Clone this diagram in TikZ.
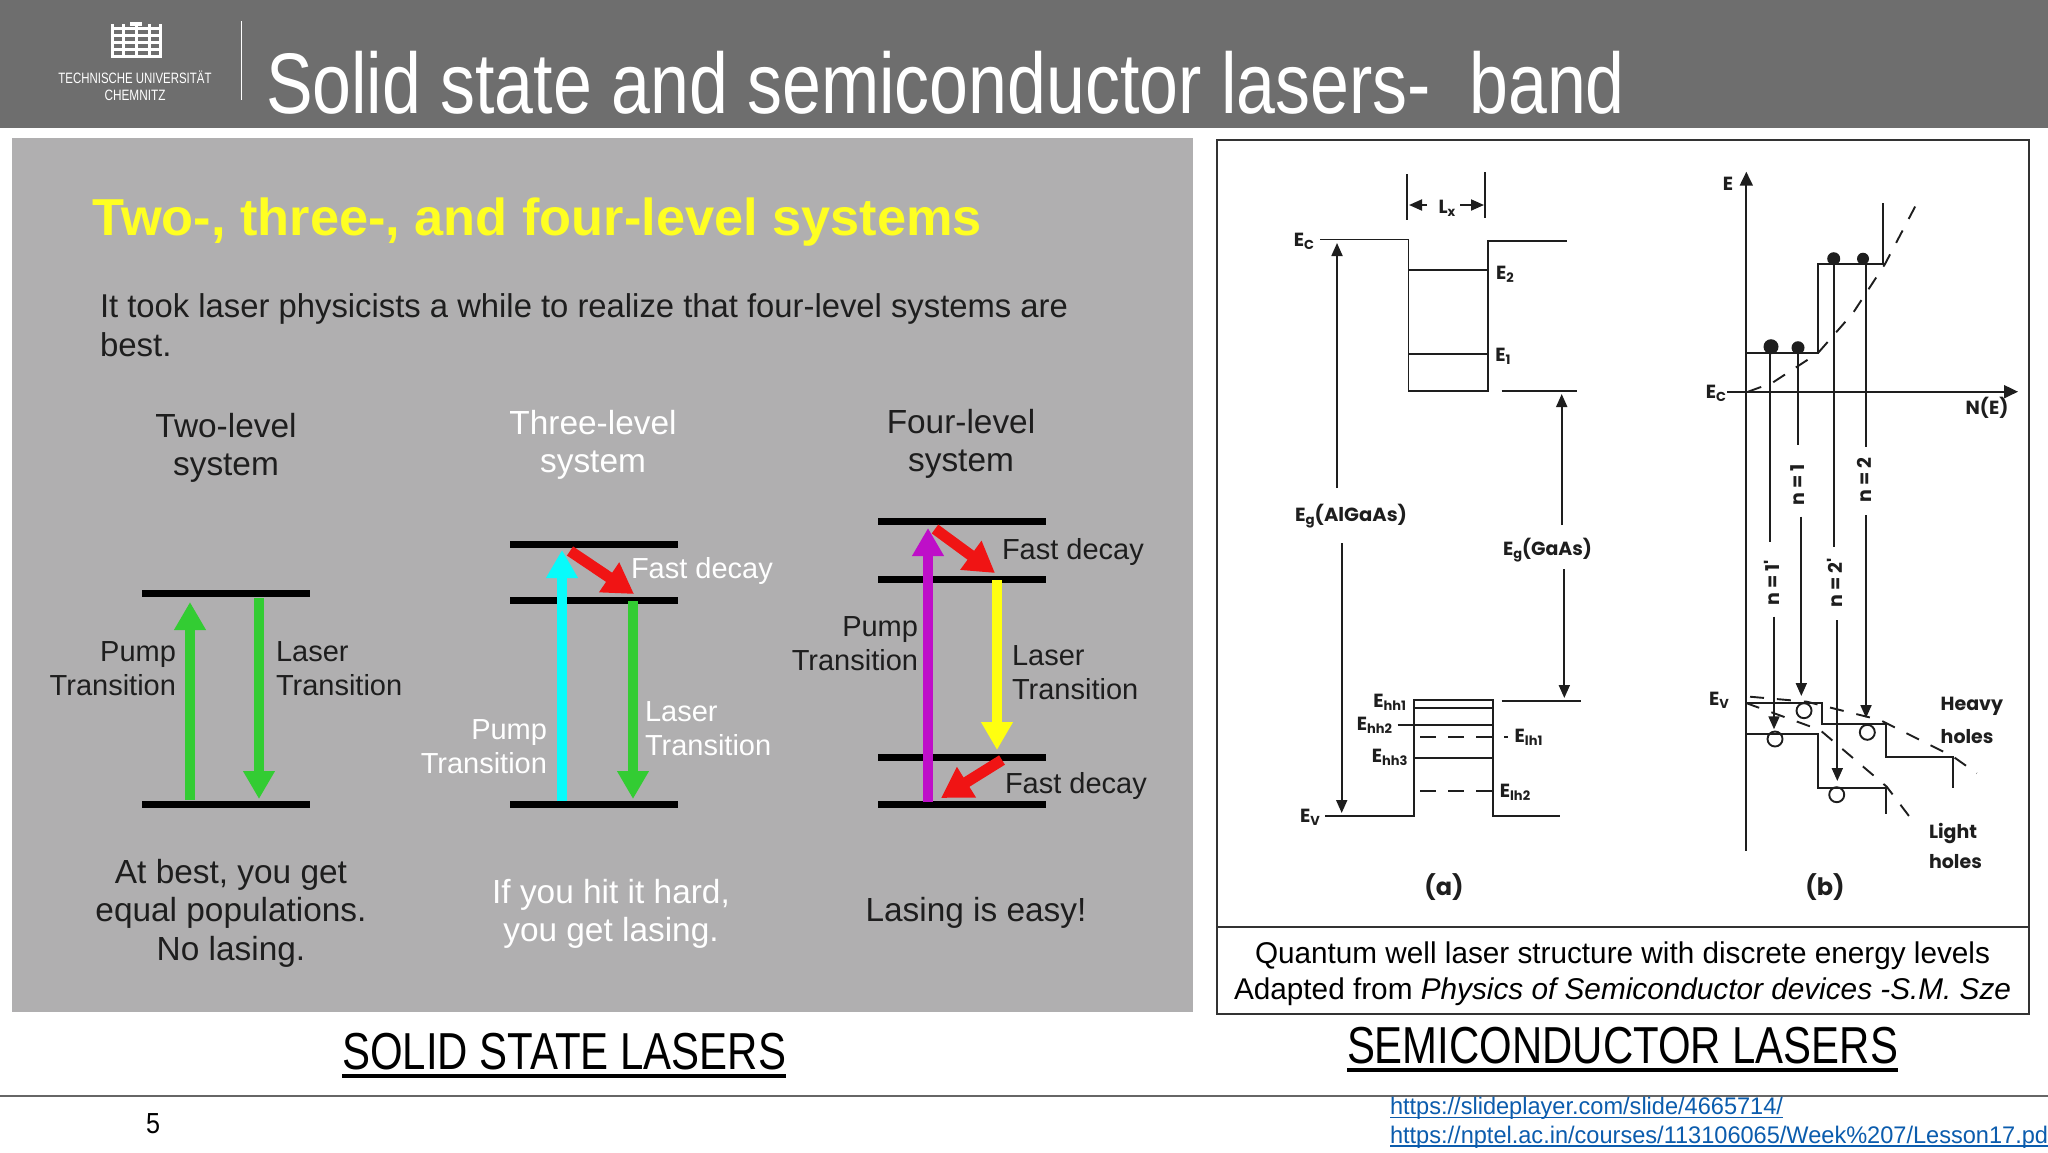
\documentclass[tikz,border=0pt]{standalone}
\usepackage{fontspec}
\setmainfont{Liberation Sans}
\newfontfamily\avg{Poppins}
\usetikzlibrary{arrows.meta}
\definecolor{hdr}{HTML}{6E6E6E}
\definecolor{panel}{HTML}{B0AFB0}
\definecolor{ink}{HTML}{1E1E1E}
\definecolor{lnk}{HTML}{0B5CAD}
\definecolor{headyel}{HTML}{FFFF22}
\definecolor{cyanx}{HTML}{08FBFB}
\definecolor{greenx}{HTML}{33CC33}
\definecolor{purplex}{HTML}{BE0FC8}
\definecolor{yellowx}{HTML}{FFFF10}
\definecolor{redx}{HTML}{F01414}
\newcommand\fitw[2]{\resizebox{#1pt}{\height}{#2}}
\newcommand\sbs[1]{\raisebox{-0.3ex}{\fontsize{6.5}{8}\selectfont #1}}
\tikzset{
  txt/.style={inner sep=0pt,outer sep=0pt},
  labA/.style={txt,text=ink,font=\fontsize{14.5}{17}\selectfont,align=center},
  labR/.style={labA,align=right,anchor=east},
  labL/.style={labA,align=left,anchor=west},
  labW/.style={text=white},
  big/.style={txt,text=ink,font=\fontsize{16.7}{19.25}\selectfont,align=center},
  level/.style={line width=3.5pt,black},
  fat/.style={line width=5pt,-{Triangle[width=15pt,length=14pt]}},
  fatr/.style={line width=5.5pt,redx,-{Triangle[width=17pt,length=15pt]}},
  thin/.style={line width=0.95pt,ink},
  arr/.style={thin,-{Triangle[width=5.5pt,length=6.5pt]}},
  dsh/.style={thin,dash pattern=on 7pt off 6.5pt},
  sz/.style={txt,text=ink,font=\avg\bfseries\fontsize{9.5}{11}\selectfont},
  szb/.style={txt,text=ink,font=\avg\bfseries\fontsize{12}{14}\selectfont},
}
\begin{document}
\begin{tikzpicture}[x=0.5pt,y=-0.5pt]
\useasboundingbox (0,0) rectangle (2048,1152);
% header
\fill[hdr] (0,0) rectangle (2048,128);
\draw[white,line width=0.5pt] (241.5,21) -- (241.5,100);
% logo
\begin{scope}[white,line width=1.5pt]
\foreach \yy in {28,35,42,49,56} \draw (111,\yy) -- (161,\yy);
\foreach \xx in {112,123,136,149,160} \draw (\xx,24) -- (\xx,58);
\draw[line width=1.6pt] (130,24) -- (142,24);
\end{scope}
\node[txt,white,font=\fontsize{7.5}{9}\selectfont] (uni1) at (135,77) {\fitw{76.5}{TECHNISCHE UNIVERSITÄT}};
\node[txt,white,font=\fontsize{7.5}{9}\selectfont] (uni2) at (135,95) {\fitw{30.5}{CHEMNITZ}};
\node[txt,white,anchor=base west,font=\fontsize{43}{50}\selectfont] (title) at (266,113) {\fitw{679.5}{Solid state and semiconductor lasers-\ \ band}};
% left panel
\fill[panel] (12,138) rectangle (1193,1012);
\node[txt,text=headyel,font=\bfseries\fontsize{26}{30}\selectfont] (head) at (537.5,222) {\fitw{444.5}{Two-, three-, and four-level systems}};
\node[txt,text=ink,anchor=base west,font=\fontsize{16.5}{20}\selectfont] (intro1) at (100,317) {\fitw{484}{It took laser physicists a while to realize that four-level systems are}};
\node[txt,text=ink,anchor=base west,font=\fontsize{16.5}{20}\selectfont] (intro2) at (100,356) {best.};
% levels
\draw[level] (142,593) -- (310,593);
\draw[level] (142,804) -- (310,804);
\draw[level] (510,544) -- (678,544);
\draw[level] (510,600) -- (678,600);
\draw[level] (510,804) -- (678,804);
\draw[level] (878,521) -- (1046,521);
\draw[level] (878,579) -- (1046,579);
\draw[level] (878,757) -- (1046,757);
\draw[level] (878,804) -- (1046,804);
% two-level
\draw[fat,greenx] (190,800) -- (190,602);
\draw[fat,greenx] (259,598) -- (259,799);
\node[big] (t2) at (226,448) {Two-level\\system};
\node[labR] (p2) at (176,669) {Pump\\Transition};
\node[labL] (l2) at (276,669) {Laser\\Transition};
\node[big] (c2) at (231,913) {At best, you get\\equal populations.\\No lasing.};
% three-level
\draw[fat,cyanx] (562,801) -- (562,550);
\draw[fat,greenx] (633,601) -- (633,799);
\draw[fatr] (570,551) -- (634,594);
\node[big,labW] (t3) at (593,445) {Three-level\\system};
\node[labA,labW,anchor=west] (f3) at (631,571) {Fast decay};
\node[labR,labW] (p3) at (547,747) {Pump\\Transition};
\node[labL,labW] (l3) at (645,729) {Laser\\Transition};
\node[big,labW] (c3) at (611,914) {If you hit it hard,\\you get lasing.};
% four-level
\draw[fat,purplex] (928,802) -- (928,528);
\draw[fat,yellowx] (997,580) -- (997,750);
\draw[fatr] (935,529) -- (995,573);
\draw[fatr] (1002,760) -- (941,798);
\node[big] (t4) at (961,444) {Four-level\\system};
\node[labA,anchor=west] (f4a) at (1002,552) {Fast decay};
\node[labA,anchor=west] (f4b) at (1005,786) {Fast decay};
\node[labR] (p4) at (918,644) {Pump\\Transition};
\node[labL] (l4) at (1012,673) {Laser\\Transition};
\node[big] (c4) at (976,913) {Lasing is easy!};
% right panel frame
\draw[line width=1pt,black!80] (1217,140) rectangle (2029,927);
\draw[line width=1pt,black!80] (1217,927) rectangle (2029,1014);
\node[txt,text=black,font=\fontsize{15}{18}\selectfont] (cap1) at (1622.5,956) {\fitw{367.5}{Quantum well laser structure with discrete energy levels}};
\node[txt,text=black,font=\fontsize{15}{18}\selectfont] (cap2) at (1622.5,992) {\fitw{388.5}{Adapted from \textit{Physics of Semiconductor devices -S.M. Sze}}};
% (a)
\draw[thin] (1320,239.5) -- (1408.5,239.5) -- (1408.5,391) -- (1487.7,391) -- (1487.7,241) -- (1567,241);
\draw[thin] (1408.5,270) -- (1487.7,270);
\draw[thin] (1408.5,354) -- (1487.7,354);
\draw[thin] (1407,174) -- (1407,220);
\draw[thin] (1485.3,172) -- (1485.3,218);
\draw[arr] (1427,205) -- (1409,205);
\draw[arr] (1460,205) -- (1484,205);
\node[sz] (lx) at (1447,208) {L\sbs{x}};
\node[sz] (ec) at (1304,241) {E\sbs{C}};
\node[sz] (e2) at (1505,274) {E\sbs{2}};
\node[sz] (e1) at (1503,356) {E\sbs{1}};
\draw[arr] (1337,488) -- (1337,243);
\draw[arr] (1341.7,543) -- (1341.7,813);
\node[sz] (ega) at (1351,516) {\fitw{56}{E\sbs{g}(AlGaAs)}};
\draw[thin] (1501.7,391) -- (1576.7,391);
\draw[arr] (1561.7,525) -- (1561.7,394);
\node[sz] (egb) at (1547.5,550) {\fitw{44.5}{E\sbs{g}(GaAs)}};
\draw[arr] (1564.3,569) -- (1564.3,698);
\draw[thin] (1501.7,701) -- (1580.7,701);
\draw[thin] (1325,816.3) -- (1414,816.3) -- (1414,700) -- (1493.3,700) -- (1493.3,816.3) -- (1560,816.3);
\draw[thin] (1414,708.3) -- (1493.3,708.3);
\draw[thin] (1397.7,725) -- (1493.3,725);
\draw[thin] (1414,758) -- (1493.3,758);
\draw[thin,dash pattern=on 8pt off 6pt] (1420,736.7) -- (1508,736.7);
\draw[thin,dash pattern=on 8pt off 6pt] (1420,790.7) -- (1493.3,790.7);
\node[sz] (ehh1) at (1389.7,702) {E\sbs{hh1}};
\node[sz] (ehh2) at (1374.5,725) {E\sbs{hh2}};
\node[sz] (ehh3) at (1389.7,757) {E\sbs{hh3}};
\node[sz] (elh1) at (1528.5,737) {E\sbs{lh1}};
\node[sz] (elh2) at (1515,792) {E\sbs{lh2}};
\node[sz] (ev) at (1310,817) {E\sbs{V}};
\node[szb] (pa) at (1444,887) {(a)};
% (b)
\draw[thin,-{Triangle[width=6.5pt,length=7pt]}] (1746.3,850.7) -- (1746.3,171.7);
\draw[thin,-{Triangle[width=6.5pt,length=7pt]}] (1727,391.7) -- (2018,391.7);
\node[sz] (eb) at (1728,184) {E};
\node[sz] (ne) at (1987,408) {N(E)};
\node[sz] (ecb) at (1716,393) {E\sbs{C}};
\node[sz] (evb) at (1719,700) {E\sbs{V}};
\draw[thin] (1746.3,353) -- (1818,353) -- (1818,264) -- (1885,264);
\draw[thin] (1883.3,264) -- (1883.3,203);
\draw[dsh] (1748,391.7) -- (1772,383) -- (1818,353) -- (1853,313) -- (1885,264) -- (1917,203);
\fill[ink] (1771,346.7) circle[radius=7.5];
\fill[ink] (1798,347.7) circle[radius=6.5];
\fill[ink] (1833.7,258.7) circle[radius=6.5];
\fill[ink] (1863,258.7) circle[radius=6];
\draw[thin] (1770,347) -- (1770,541.7);
\draw[thin] (1797.7,347) -- (1797.7,445);
\draw[thin] (1833.7,259) -- (1833.7,546.7);
\draw[thin] (1866,259) -- (1866,446.7);
\node[sz,rotate=90] (n1p) at (1772,583) {n = 1'};
\node[sz,rotate=90] (n1) at (1798,485) {n = 1};
\node[sz,rotate=90] (n2p) at (1835,583) {n = 2'};
\node[sz,rotate=90] (n2) at (1864,480) {n = 2};
\draw[arr] (1774,616.7) -- (1774,729.3);
\draw[arr] (1801.3,516.7) -- (1801.3,696);
\draw[arr] (1837.3,620) -- (1837.3,781);
\draw[arr] (1866,515) -- (1866,718);
\draw[thin] (1746.3,703.3) -- (1821.7,703.3) -- (1821.7,724.3) -- (1886,724.3) -- (1886,757.3) -- (1953.3,757.3) -- (1953.3,787.7);
\draw[thin] (1746.3,734.3) -- (1817.7,734.3) -- (1817.7,788.3) -- (1885.7,788.3) -- (1885.7,814.3);
\draw[thin] (1804,710.7) circle[radius=7.5];
\draw[thin] (1775,739) circle[radius=7.5];
\draw[thin] (1867.3,732.3) circle[radius=7.5];
\draw[thin] (1836.7,794.7) circle[radius=7.5];
\draw[dsh] (1750,696.7) -- (1806.7,701.7) -- (1880,720) -- (1953.3,756.7) -- (1976.7,773.3);
\draw[dsh] (1746,703) -- (1820,730) -- (1886.7,786.7) -- (1913.3,821.7);
\node[sz,anchor=west] (hv) at (1940.7,706) {Heavy};
\node[sz,anchor=west] (hh) at (1940.7,737) {holes};
\node[sz,anchor=west] (lg) at (1929,833) {Light};
\node[sz,anchor=west] (lh) at (1929,862) {holes};
\node[szb] (pb) at (1825,887) {(b)};
% bottom
\node[txt,text=black,anchor=base west,font=\fontsize{26}{30}\selectfont] (sol) at (342,1069) {\fitw{222}{SOLID STATE LASERS}};
\draw[black,line width=1.8pt] (342,1076) -- (786,1076);
\node[txt,text=black,anchor=base west,font=\fontsize{26}{30}\selectfont] (sem) at (1347,1063) {\fitw{275.5}{SEMICONDUCTOR LASERS}};
\draw[black,line width=1.8pt] (1347,1070) -- (1898,1070);
\draw[black!60,line width=1pt] (0,1096) -- (2048,1096);
\node[txt,text=black,anchor=base west,font=\fontsize{14.5}{17}\selectfont] (pg) at (146,1133) {\fitw{7}{5}};
\node[txt,text=lnk,anchor=base west,font=\fontsize{12}{14}\selectfont] (u1) at (1390,1114) {\fitw{196.5}{https://slideplayer.com/slide/4665714/}};
\draw[lnk,line width=0.6pt] (1390,1117.5) -- (1783,1117.5);
\node[txt,text=lnk,anchor=base west,font=\fontsize{12}{14}\selectfont] (u2) at (1390,1143) {\fitw{329}{https://nptel.ac.in/courses/113106065/Week\%207/Lesson17.pd}};
\draw[lnk,line width=0.6pt] (1390,1146) -- (2048,1146);
\end{tikzpicture}
\end{document}
